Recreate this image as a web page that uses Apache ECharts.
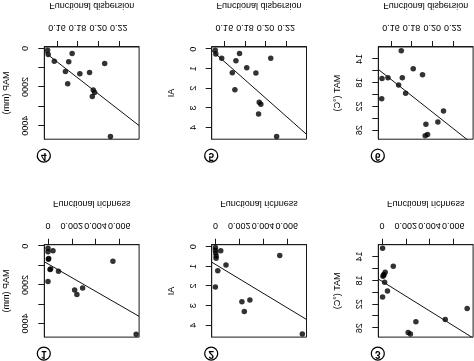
<!DOCTYPE html>
<html>
<head>
<meta charset="utf-8">
<script src="https://cdn.jsdelivr.net/npm/echarts@6/dist/echarts.min.js"></script>
<style>
html,body{margin:0;padding:0;background:#fff;}
#c{width:474px;height:361px;transform:scaleY(-1);}
</style>
</head>
<body>
<div id="c"></div>
<script>
// ---- data ----
// Panel 1: Functional richness vs MAP (mm)
const p1x = [0, 0, 0.00042, 0.00003, 0.00006, 0.00017, 0.00022, 0.00088, 0, 0.00224, 0.00243, 0.00291, 0.00546, 0.00741];
const p1y = [103, 293, 241, 672, 640, 1207, 1180, 1293, 1828, 2259, 2500, 2155, 776, 4552];
const p1fit = [[-0.00031, 804], [0.00766, 3624]];
// Panel 2: Functional richness vs AI
const p2x = [0, 0, 0.00003, 0.00006, 0.00006, 0.00045, 0.0002, 0.00089, 0, 0.00223, 0.00243, 0.0029, 0.00541, 0.00731];
const p2y = [0.03, 0.17, 0.31, 0.46, 0.58, 0.20, 1.22, 0.93, 2.05, 2.80, 3.29, 2.71, 0.44, 4.44];
const p2fit = [[-0.00031, 0.779], [0.00766, 3.70]];
// Panel 3: Functional richness vs MAT (°C)
const p3x = [0.00005, 0.00095, 0.00027, 0.00014, 0.00008, 0.00016, 0.00022, 0.00046, 0.00005, 0.00716, 0.00532, 0.00285, 0.0022, 0.00239];
const p3y = [12.61, 15.61, 16.61, 17.11, 17.28, 17.0, 18.28, 19.78, 20.78, 22.72, 24.56, 24.94, 26.72, 27.0];
const p3fit = [[-0.00031, 17.75], [0.00766, 27.65]];
// Panel 4: Functional dispersion vs MAP (mm)
const p4x = [0.1509, 0.1515, 0.1574, 0.1747, 0.1714, 0.1682, 0.1704, 0.1822, 0.1916, 0.2063, 0.1952, 0.1965, 0.1943, 0.2119];
const p4y = [86, 310, 655, 259, 690, 1190, 1828, 1310, 1241, 776, 2155, 2276, 2483, 4552];
const p4fit = [[0.1477, 176], [0.2397, 3992]];
// Panel 5: Functional dispersion vs AI
const p5x = [0.1511, 0.1517, 0.1574, 0.1747, 0.1712, 0.1677, 0.1702, 0.1817, 0.1906, 0.2050, 0.1938, 0.1954, 0.1932, 0.2107];
const p5y = [0.05, 0.25, 0.46, 0.22, 0.59, 1.20, 2.07, 0.95, 1.22, 0.47, 2.71, 2.81, 3.31, 4.46];
const p5fit = [[0.1477, 0.062], [0.2397, 4.35]];
// Panel 6: Functional dispersion vs MAT (°C)
const p6x = [0.1700, 0.1513, 0.1571, 0.1710, 0.1816, 0.1906, 0.1674, 0.1742, 0.1510, 0.2110, 0.2055, 0.1939, 0.1955, 0.1932];
const p6y = [12.61, 17.28, 17.17, 17.17, 15.67, 16.67, 18.39, 19.78, 20.72, 22.78, 24.61, 25.0, 26.72, 26.94];
const p6fit = [[0.1477, 15.76], [0.2397, 28.35]];

// tick labels
const fricTicks = [0, 0.002, 0.004, 0.006];
const fdisTicks = [0.16, 0.18, 0.20, 0.22];
const mapTicks = [0, 1000, 2000, 3000, 4000];
const mapLabels = [0, 2000, 4000];
const aiTicks = [0, 1, 2, 3, 4];
const matTicks = [14, 16, 18, 20, 22, 24, 26];
const matLabels = [14, 18, 22, 26];
const panelNumbers = ['1', '2', '3', '4', '5', '6'];

// ---- layout ----
const FONT = "'Liberation Sans', Arial, Helvetica, sans-serif";
const colLeft = [44.3, 211.7, 378.3];
const rowTop = [23.9, 221.8];
const W = 94.8, H = 92.4;

const xDefs = {
  fric: {min: -0.00031, max: 0.00766, ticks: fricTicks, labels: fricTicks, name: 'Functional richness', fmt: v => v === 0 ? '0' : v.toFixed(3)},
  fdis: {min: 0.1477, max: 0.2397, ticks: fdisTicks, labels: fdisTicks, name: 'Functional dispersion', fmt: v => v.toFixed(2)}
};
const yDefs = {
  map: {min: -77, max: 4697, ticks: mapTicks, labels: mapLabels, name: 'MAP (mm)', fmt: v => String(v), gap: 33},
  ai: {min: -0.11, max: 4.6, ticks: aiTicks, labels: aiTicks, name: 'AI', fmt: v => String(v), gap: 36},
  mat: {min: 12.0, max: 27.5, ticks: matTicks, labels: matLabels, name: 'MAT (°C)', fmt: v => String(v), gap: 36}
};
const panels = [
  {x: 'fric', y: 'map', px: p1x, py: p1y, fit: p1fit},
  {x: 'fric', y: 'ai', px: p2x, py: p2y, fit: p2fit},
  {x: 'fric', y: 'mat', px: p3x, py: p3y, fit: p3fit},
  {x: 'fdis', y: 'map', px: p4x, py: p4y, fit: p4fit},
  {x: 'fdis', y: 'ai', px: p5x, py: p5y, fit: p5fit},
  {x: 'fdis', y: 'mat', px: p6x, py: p6y, fit: p6fit}
];

const grid = [], xAxis = [], yAxis = [], series = [], graphic = [];
panels.forEach((p, i) => {
  const col = i % 3, row = Math.floor(i / 3);
  const left = colLeft[col], top = rowTop[row];
  grid.push({left: left, top: top, width: W, height: H, show: true, borderColor: '#1a1a1a', borderWidth: 1, backgroundColor: 'transparent', containLabel: false});
  const xd = xDefs[p.x], yd = yDefs[p.y];
  xAxis.push({
    gridIndex: i, type: 'value', min: xd.min, max: xd.max,
    axisLine: {show: true, onZero: false, lineStyle: {color: '#1a1a1a', width: 1}},
    axisTick: {show: true, inside: false, length: 6, customValues: xd.ticks, lineStyle: {color: '#1a1a1a', width: 1}},
    axisLabel: {customValues: xd.labels, formatter: xd.fmt, fontSize: 9, fontFamily: FONT, color: '#000', margin: 15},
    splitLine: {show: false},
    name: xd.name, nameLocation: 'middle', nameGap: 37,
    nameTextStyle: {fontSize: 9, fontFamily: FONT, color: '#000'}
  });
  yAxis.push({
    gridIndex: i, type: 'value', min: yd.min, max: yd.max,
    axisLine: {show: true, onZero: false, lineStyle: {color: '#1a1a1a', width: 1}},
    axisTick: {show: true, inside: false, length: 6, customValues: yd.ticks, lineStyle: {color: '#1a1a1a', width: 1}},
    axisLabel: {customValues: yd.labels, formatter: yd.fmt, rotate: 90, fontSize: 9, fontFamily: FONT, color: '#000', margin: 14},
    splitLine: {show: false},
    name: yd.name, nameLocation: 'middle', nameRotate: 90, nameGap: yd.gap,
    nameTextStyle: {fontSize: 9, fontFamily: FONT, color: '#000'}
  });
  series.push({
    type: 'scatter', xAxisIndex: i, yAxisIndex: i,
    data: p.px.map((v, k) => [v, p.py[k]]),
    symbol: 'circle', symbolSize: 5.5, itemStyle: {color: '#000'}, silent: true, animation: false
  });
  series.push({
    type: 'line', xAxisIndex: i, yAxisIndex: i, data: p.fit, symbol: 'none', clip: true,
    lineStyle: {color: '#111', width: 1}, silent: true, animation: false
  });
  graphic.push({
    type: 'circle', shape: {cx: left - 0.5, cy: top - 16.5, r: 6.5},
    style: {fill: '#fff', stroke: '#000', lineWidth: 1.2}, silent: true
  });
  graphic.push({
    type: 'text', x: left - 0.5, y: top - 16.5,
    style: {text: panelNumbers[i], font: 'bold 10px ' + FONT, fill: '#000', align: 'center', verticalAlign: 'middle'}, silent: true
  });
});

const chart = echarts.init(document.getElementById('c'), null, {renderer: 'canvas'});
chart.setOption({
  backgroundColor: '#fff',
  animation: false,
  grid: grid, xAxis: xAxis, yAxis: yAxis, series: series, graphic: graphic
});
</script>
</body>
</html>
